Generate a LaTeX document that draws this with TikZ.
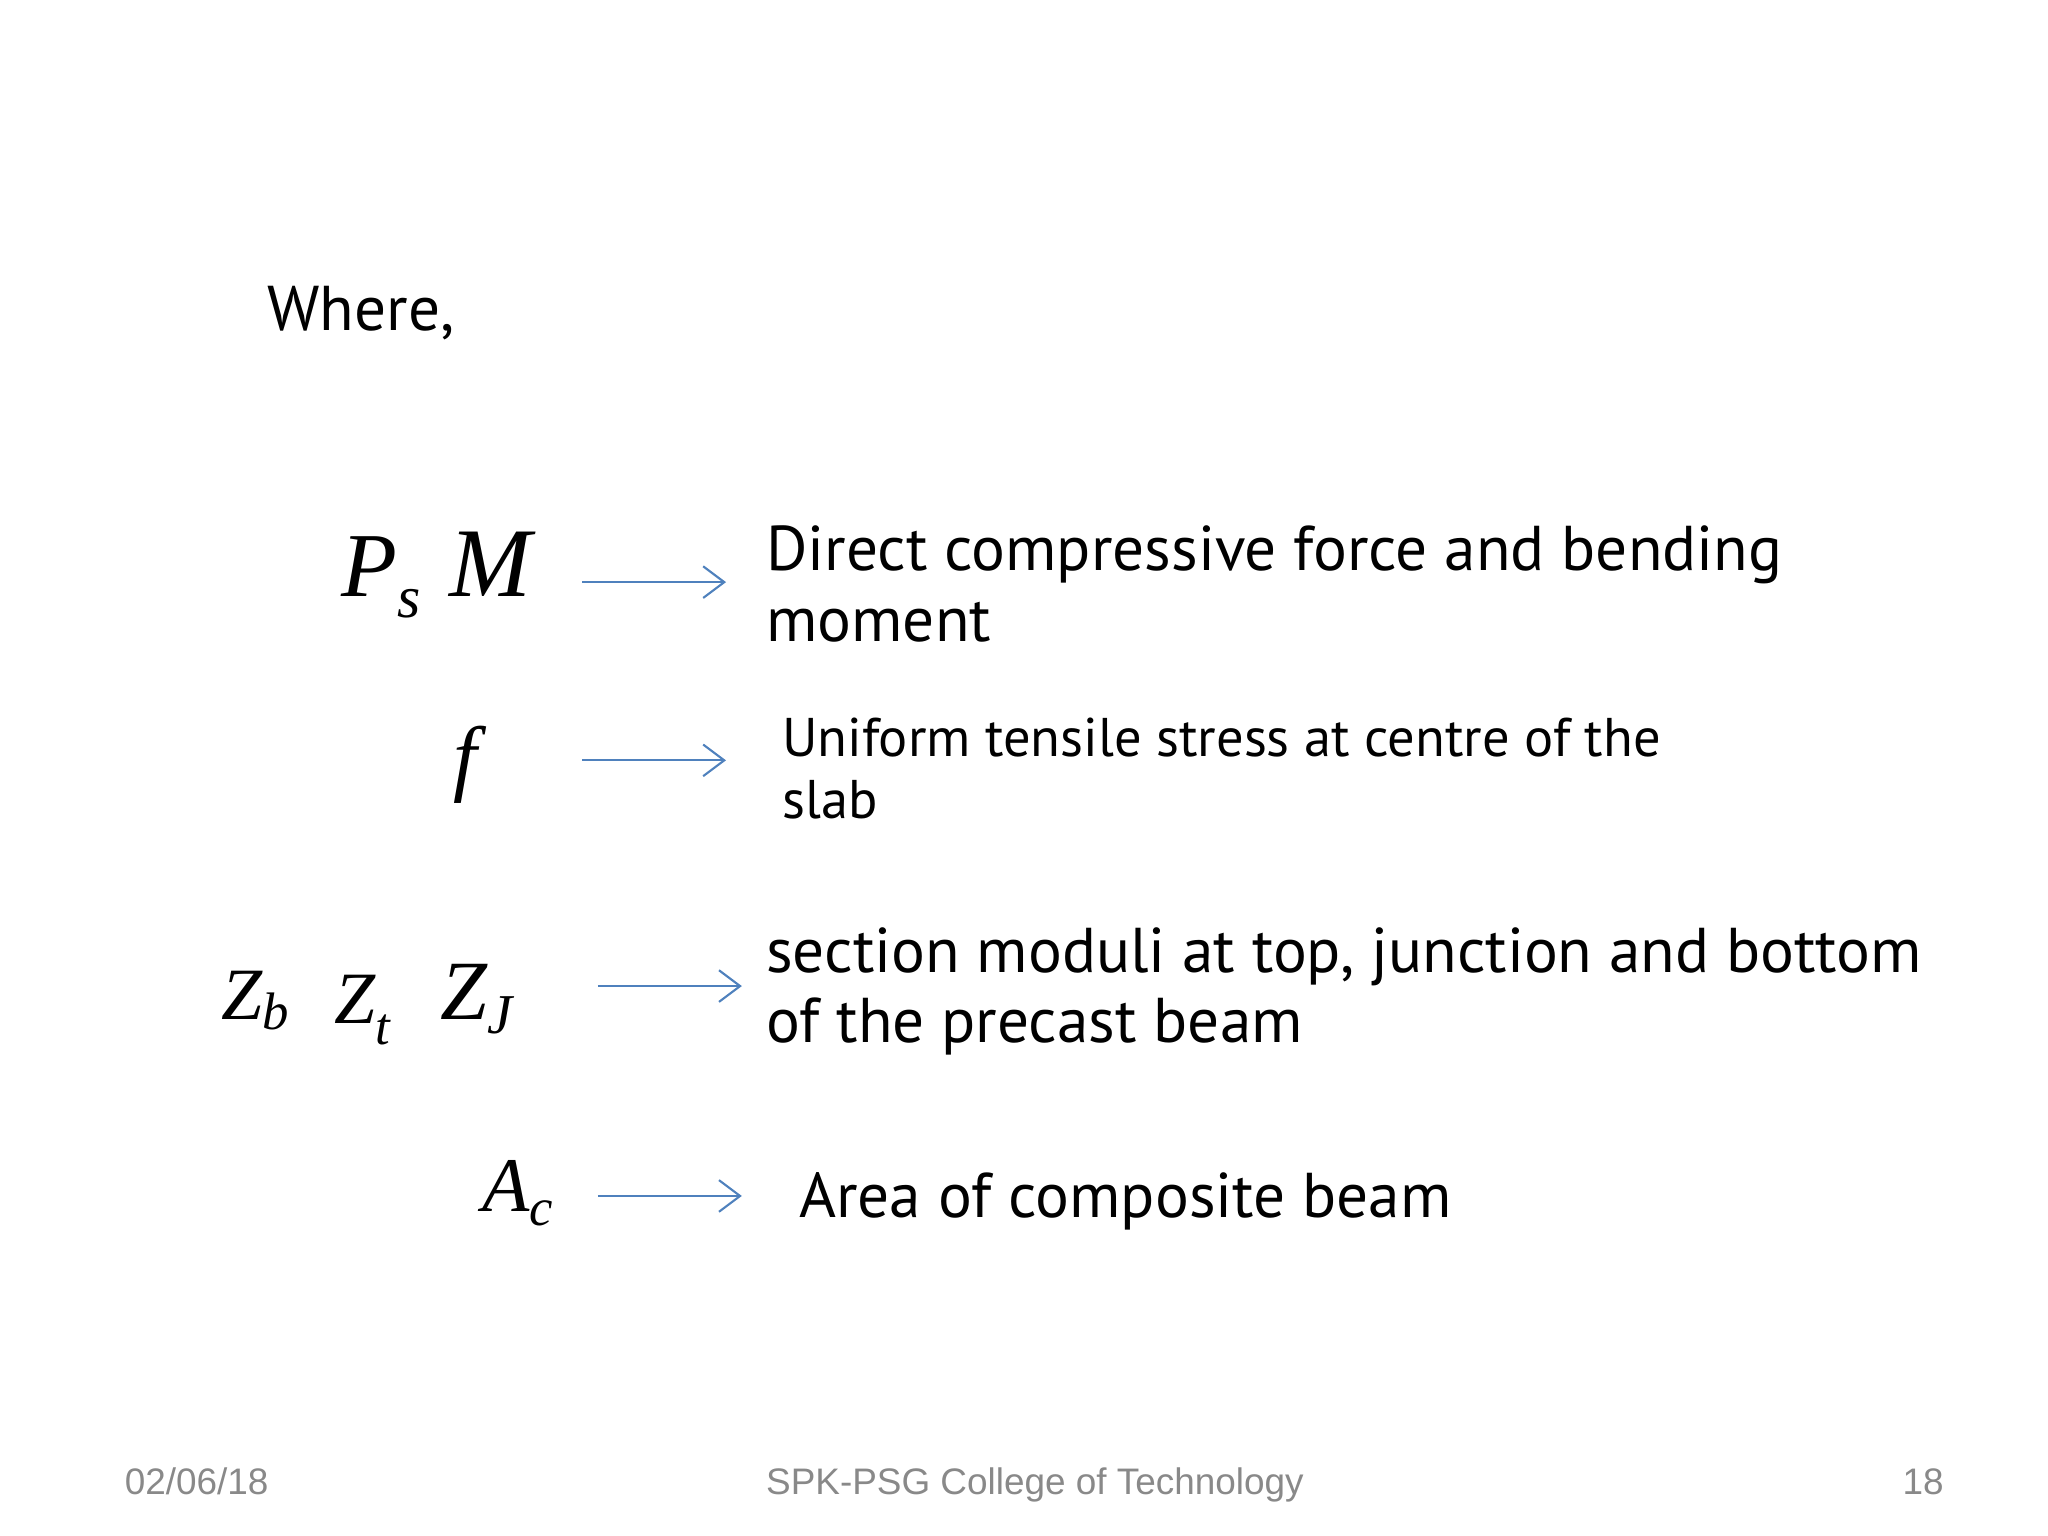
\documentclass[tikz,border=0pt]{standalone}
\usepackage{fontspec}
\setmainfont{PT Sans}
\newfontfamily\mathser{Liberation Serif}
\newfontfamily\foot{Liberation Sans}
\usetikzlibrary{arrows.meta}
\definecolor{arr}{RGB}{79,129,189}
\definecolor{ft}{RGB}{137,137,137}
\tikzset{
  txt/.style={anchor=base west, inner sep=0pt, font=\fontsize{18}{20}\selectfont},
  stxt/.style={anchor=base west, inner sep=0pt, font=\fontsize{15.5}{18}\selectfont},
  sym/.style={anchor=base west, inner sep=0pt},
  ar/.style={draw=arr, line width=0.6pt, -{Straight Barb[length=6pt,width=9pt]}},
  ftx/.style={inner sep=0pt, text=ft, font=\foot\fontsize{10.5}{12}\selectfont}
}
\begin{document}
\begin{tikzpicture}[x=0.0132cm,y=-0.0132cm]
\useasboundingbox (0,0) rectangle (1551.5,1163.6);
\node[txt] (where) at (202,250) {Where,};
% row 1
\node[sym] (ps) at (258,452) {\mathser\itshape\fontsize{26}{26}\selectfont P\raisebox{-6pt}{\fontsize{17}{17}\selectfont s}};
\node[sym] (m) at (340,452) {\mathser\itshape\fontsize{28}{28}\selectfont M};
\coordinate (a1s) at (441,441); \coordinate (a1e) at (550,441);
\draw[ar] (a1s) -- (a1e);
\node[txt] (t1a) at (580,432) {Direct compressive force and bending};
\node[txt] (t1b) at (580,486) {moment};
% row 2
\node[sym] (f) at (343,595) {\mathser\itshape\fontsize{24}{24}\selectfont f};
\coordinate (a2s) at (441,576); \coordinate (a2e) at (550,576);
\draw[ar] (a2s) -- (a2e);
\node[stxt] (t2a) at (592,573) {Uniform tensile stress at centre of the};
\node[stxt] (t2b) at (592,620) {slab};
% row 3
\node[sym] (zb) at (167,772) {\mathser\itshape\fontsize{21}{21}\selectfont Z\raisebox{-3pt}{\fontsize{15}{15}\selectfont b}};
\node[sym] (zt) at (253,775) {\mathser\itshape\fontsize{21}{21}\selectfont Z\raisebox{-6pt}{\fontsize{15}{15}\selectfont t}};
\node[sym] (zj) at (333,772) {\mathser\itshape\fontsize{24}{24}\selectfont Z\raisebox{-4pt}{\fontsize{16}{16}\selectfont J}};
\coordinate (a3s) at (453,747); \coordinate (a3e) at (562,747);
\draw[ar] (a3s) -- (a3e);
\node[txt] (t3a) at (580,737) {section moduli at top, junction and bottom};
\node[txt] (t3b) at (580,790) {of the precast beam};
% row 4
\node[sym] (ac) at (365,918) {\mathser\itshape\fontsize{22}{22}\selectfont A\raisebox{-4pt}{\fontsize{15}{15}\selectfont c}};
\coordinate (a4s) at (453,906); \coordinate (a4e) at (562,906);
\draw[ar] (a4s) -- (a4e);
\node[txt] (t4) at (605,922) {Area of composite beam};
% footer
\node[ftx, anchor=base west] (date) at (94,1132) {02/06/18};
\node[ftx, anchor=base] (col) at (784,1132) {SPK-PSG College of Technology};
\node[ftx, anchor=base east] (pg) at (1473,1132) {18};
\end{tikzpicture}
\end{document}
